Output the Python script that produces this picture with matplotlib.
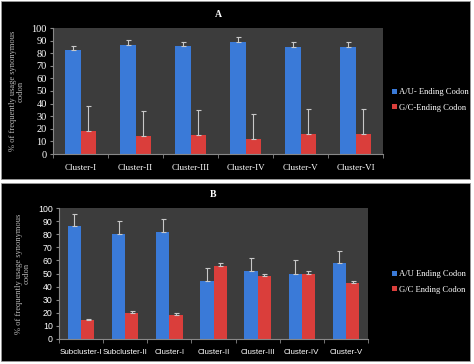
import numpy as np
import matplotlib.pyplot as plt
from matplotlib.patches import Rectangle

# Panel A data
clusters_a = ['Cluster-I', 'Cluster-II', 'Cluster-III', 'Cluster-IV', 'Cluster-V', 'Cluster-VI']
au_a = [82.5, 86.5, 85.5, 88.5, 85, 85]
au_a_err = [3.5, 4, 3.5, 4, 4, 4]
gc_a = [18, 14, 15, 12, 15.5, 15.5]
gc_a_err = [20, 20, 20, 19.5, 20, 20]

# Panel B data
clusters_b = ['Subcluster-I', 'Subcluster-II', 'Cluster-I', 'Cluster-II',
              'Cluster-III', 'Cluster-IV', 'Cluster-V']
au_b = [86, 80.5, 81.5, 44.5, 52, 50, 58]
au_b_err = [9.5, 9.5, 10, 9.5, 9.5, 10, 9.5]
gc_b = [14.5, 19.5, 18.5, 55.5, 48, 50, 42.5]
gc_b_err = [1, 1.5, 1, 2.5, 2, 2, 2]

BLUE = '#3a7ad8'
RED = '#da3e3b'
PANEL_BG = '#3c3c3c'
SERIF = 'Liberation Serif'
SANS = 'Liberation Sans'

fig = plt.figure(figsize=(4.74, 3.64), dpi=100)
fig.patch.set_facecolor('white')

# black panel boxes
for y0 in [1 - 179 / 364, 1 - 361 / 364]:
    fig.patches.append(Rectangle((1 / 474, y0), 469 / 474, 178 / 364,
                                 transform=fig.transFigure, facecolor='black',
                                 edgecolor='#999999', lw=0.6, zorder=-5))


def draw_panel(ax, cats, au, au_err, gc, gc_err, width, tick_font, tick_size,
               ytick_size, labels, title, ylab_x):
    x = np.arange(len(cats))
    ax.set_facecolor(PANEL_BG)
    ekw = dict(ecolor='#c8c8c8', elinewidth=0.8, capsize=1.8, capthick=0.8)
    ax.bar(x - width / 2, au, width, color=BLUE, label=labels[0],
           yerr=[np.zeros(len(au)), au_err], error_kw=ekw, zorder=2)
    ax.bar(x + width / 2, gc, width, color=RED, label=labels[1],
           yerr=[np.zeros(len(gc)), gc_err], error_kw=ekw, zorder=2)
    ax.set_xlim(-0.5, len(cats) - 0.5)
    ax.set_ylim(0, 100)
    ax.set_yticks(range(0, 101, 10))
    ax.set_xticks(x)
    ax.set_xticklabels(cats, fontsize=tick_size, family=tick_font, color='white')
    ax.set_xticks(np.arange(-0.5, len(cats)), minor=True)
    ax.tick_params(axis='x', which='major', length=0, pad=7)
    ax.tick_params(axis='x', which='minor', length=3, color='#888888')
    ax.tick_params(axis='y', length=2.5, color='#888888', labelsize=ytick_size,
                   labelcolor='white', pad=2)
    for t in ax.get_yticklabels():
        t.set_family(tick_font)
    for s in ['top', 'right']:
        ax.spines[s].set_visible(False)
    for s in ['left', 'bottom']:
        ax.spines[s].set_color('#888888')
        ax.spines[s].set_linewidth(0.8)
    ax.set_title(title, color='white', fontsize=7, fontweight='bold',
                 family=SERIF, pad=8)
    fig.text(ylab_x, ax.get_position().y0 + ax.get_position().height / 2,
             '% of frequently usage synonymous\ncodon', rotation=90,
             ha='center', va='center', color='#bbbbbb', fontsize=6.1,
             family=SERIF, linespacing=1.0)


ax_a = fig.add_axes([53 / 474, 1 - 154 / 364, 330 / 474, 126 / 364])
draw_panel(ax_a, clusters_a, au_a, au_a_err, gc_a, gc_a_err, 0.29, SERIF, 6.5, 7.5,
           ['A/U- Ending Codon', 'G/C-Ending Codon'], 'A', 17 / 474)

ax_b = fig.add_axes([59 / 474, 1 - 339 / 364, 309 / 474, 131 / 364])
draw_panel(ax_b, clusters_b, au_b, au_b_err, gc_b, gc_b_err, 0.3, SANS, 5.8, 6.3,
           ['A/U Ending Codon', 'G/C Ending Codon'], 'B', 23 / 474)

for ax, yc in [(ax_a, 1 - 100 / 364), (ax_b, 1 - 282 / 364)]:
    ax.legend(loc='center left', bbox_to_anchor=(388 / 474, yc),
              bbox_transform=fig.transFigure, frameon=False,
              labelcolor='white', prop={'family': SERIF, 'size': 6.2},
              handlelength=0.5, handleheight=0.5, handletextpad=0.3,
              labelspacing=0.9, borderpad=0)

fig.savefig('out.png', dpi=100, facecolor='white')
